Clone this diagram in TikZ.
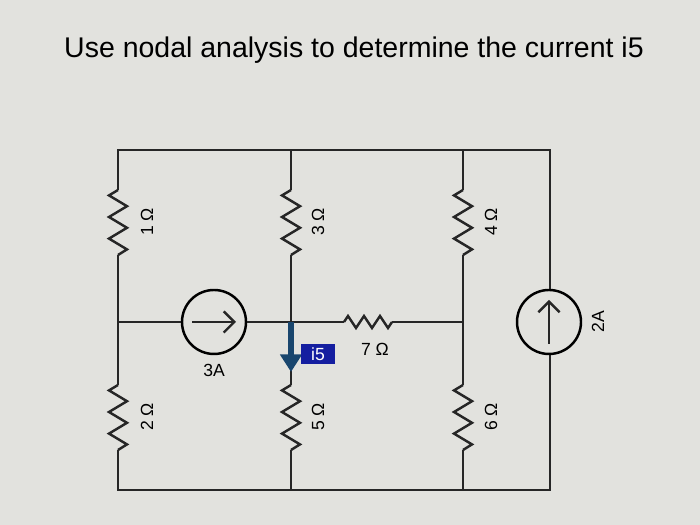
\documentclass[tikz,border=0pt]{standalone}
\usepackage{fontspec}
\setmainfont{Liberation Sans}
\usetikzlibrary{arrows.meta}
\definecolor{paper}{RGB}{226,226,222}
\definecolor{boxblue}{RGB}{20,30,160}
\definecolor{arrowblue}{RGB}{25,70,110}
\tikzset{
  wire/.style={line width=0.7pt, black!85},
  vres/.pic={\draw[wire] (0,0) -- (-9,-5.4) -- (9,-16.2) -- (-9,-27) -- (9,-37.8) -- (-9,-48.6) -- (9,-59.4) -- (0,-65);},
  hres/.pic={\draw[wire] (0,0) -- (4,6) -- (12,-6) -- (20,6) -- (28,-6) -- (36,6) -- (44,-6) -- (48,0);},
  src/.style={circle, draw, line width=0.7pt, minimum size=64*0.01cm, inner sep=0pt},
  lbl/.style={font=\fontsize{5}{6}\selectfont, rotate=90},
}
\begin{document}
\begin{tikzpicture}[x=0.01cm,y=0.01cm]
\fill[paper] (0,0) rectangle (700,525);
\node[font=\fontsize{8.1}{10}\selectfont] (title) at (354,475) {Use nodal analysis to determine the current i5};
% outer frame
\draw[wire] (118,335) -- (118,375) -- (550,375) -- (550,235);
\draw[wire] (550,171) -- (550,35) -- (118,35) -- (118,75);
\draw[wire] (291,375) -- (291,335);
\draw[wire] (291,270) -- (291,140);
\draw[wire] (291,75) -- (291,35);
\draw[wire] (463,375) -- (463,335);
\draw[wire] (463,270) -- (463,140);
\draw[wire] (463,75) -- (463,35);
\draw[wire] (118,270) -- (118,140);
% resistors
\pic at (118,335) {vres}; \pic at (118,140) {vres};
\pic at (291,335) {vres}; \pic at (291,140) {vres};
\pic at (463,335) {vres}; \pic at (463,140) {vres};
\pic at (344,203) {hres};
\node[lbl] (r1) at (147,303) {1 Ω};
\node[lbl] (r2) at (147,108) {2 Ω};
\node[lbl] (r3) at (318,303) {3 Ω};
\node[lbl] (r5) at (318,108) {5 Ω};
\node[lbl] (r4) at (491,303) {4 Ω};
\node[lbl] (r6) at (491,108) {6 Ω};
\node[font=\fontsize{5}{6}\selectfont] (r7) at (375,176) {7 Ω};
% sources
\node[src] (s3) at (214,203) {};
\node[src] (s2) at (549,203) {};
\draw[wire] (118,203) -- (s3) -- (291,203) -- (344,203);
\draw[wire] (392,203) -- (463,203);
\draw[wire, -{Straight Barb[length=3pt]}] (192,203) -- (236,203);
\draw[wire, -{Straight Barb[length=3pt]}] (549,181) -- (549,225);
\node[font=\fontsize{5}{6}\selectfont] (l3) at (214,155) {3A};
\node[lbl] (l2) at (598,203) {2A};
% i5
\draw[arrowblue, line width=1.6pt, -{Triangle[length=5pt,width=6pt]}] (291,203) -- (291,153);
\node[fill=boxblue, text=white, font=\fontsize{5}{6}\selectfont, minimum width=34*0.01cm, minimum height=20*0.01cm, inner sep=0pt] (i5) at (318,171) {i5};
\end{tikzpicture}
\end{document}
